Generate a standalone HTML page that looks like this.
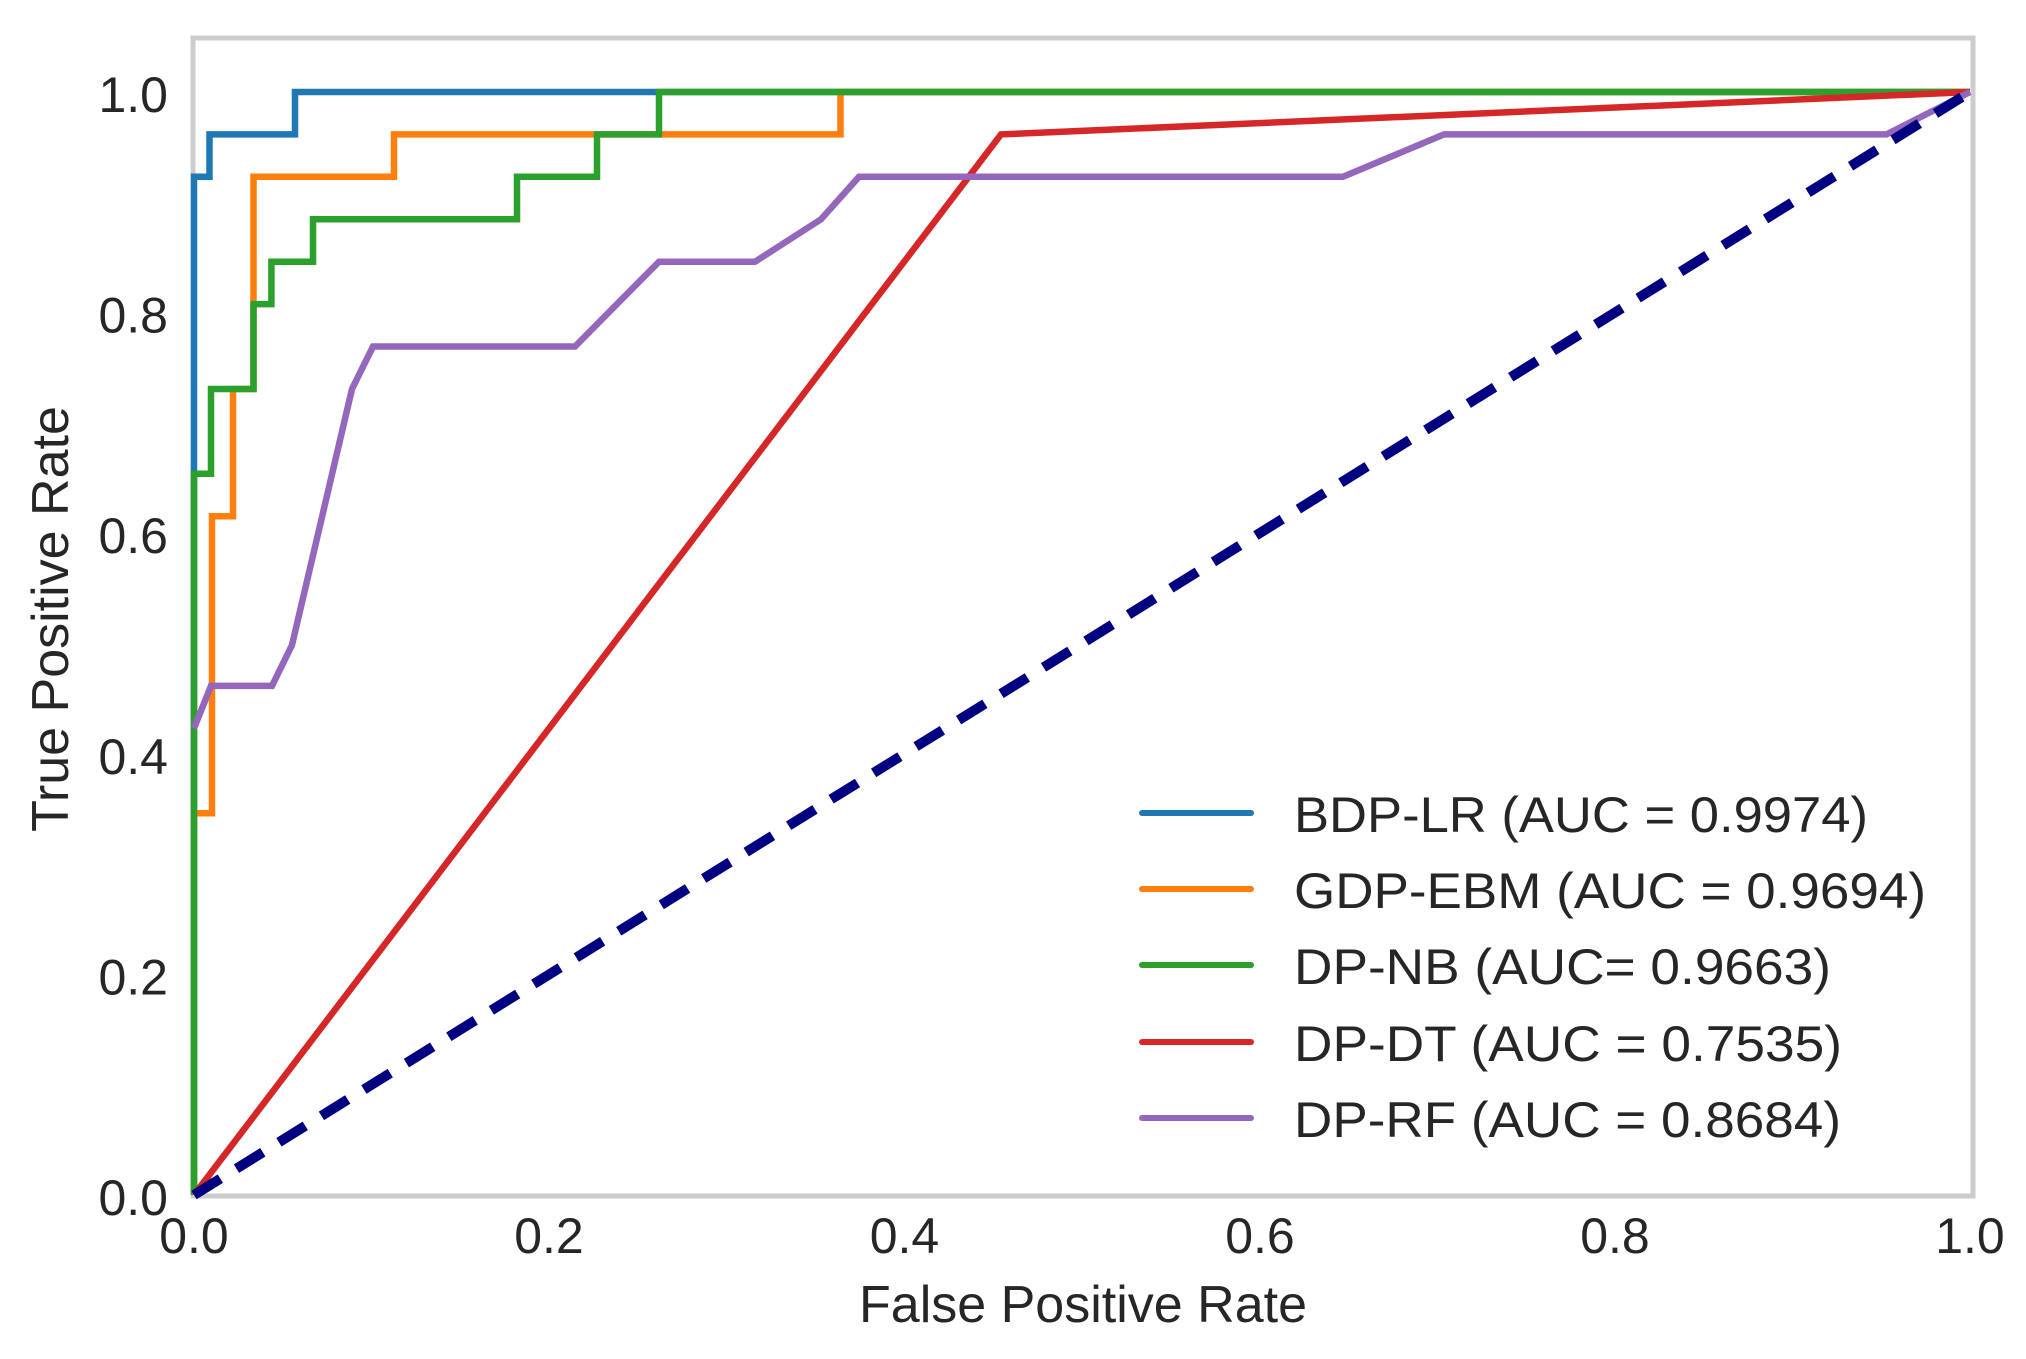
<!DOCTYPE html>
<html><head><meta charset="utf-8"><style>
html,body{margin:0;padding:0;background:#fff;}
svg{display:block;}
text{font-family:"Liberation Sans",Arial,sans-serif;fill:#262626;}
</style></head><body>
<svg width="2026" height="1359" viewBox="0 0 2026 1359" xmlns="http://www.w3.org/2000/svg">
<rect x="0" y="0" width="2026" height="1359" fill="#fff"/>
<rect x="193" y="38" width="1780" height="1158" fill="#fff" stroke="#cccccc" stroke-width="5"/>
<g fill="none" stroke-width="6.5" stroke-linejoin="miter" stroke-linecap="butt">
<polyline stroke="#1f77b4" points="194,1195 194,176.8 209.5,176.8 209.5,134.4 295,134.4 295,92 1970,92"/>
<polyline stroke="#ff7f0e" points="194,1195 194,813.2 212,813.2 212,516.2 233,516.2 233,389 253.5,389 253.5,176.8 394,176.8 394,134.4 840.5,134.4 840.5,92 1970,92"/>
<polyline stroke="#2ca02c" points="194,1195 194,473.8 211,473.8 211,389 253.5,389 253.5,304.1 271.4,304.1 271.4,261.7 313,261.7 313,219.3 517,219.3 517,176.8 597,176.8 597,134.4 659,134.4 659,92 1970,92"/>
<polyline stroke="#d62728" points="194,1195 1001,134.4 1970,92"/>
<polyline stroke="#9467bd" points="194,728.3 211,685.9 272,685.9 292,645 352,389 373,346.5 575,346.5 659,261.7 755,261.7 821,219.3 859,176.8 1343,176.8 1444,134.4 1886.5,134.4 1970,92"/>
<line x1="194" y1="1195" x2="1970" y2="92" stroke="#000080" stroke-width="10" stroke-dasharray="31,19"/>
</g>
<g font-size="50" text-anchor="end">
<text x="168" y="112">1.0</text>
<text x="168" y="332.6">0.8</text>
<text x="168" y="553.2">0.6</text>
<text x="168" y="773.8">0.4</text>
<text x="168" y="994.4">0.2</text>
<text x="168" y="1215">0.0</text>
</g>
<g font-size="50" text-anchor="middle">
<text x="194" y="1253">0.0</text>
<text x="549" y="1253">0.2</text>
<text x="904.5" y="1253">0.4</text>
<text x="1260" y="1253">0.6</text>
<text x="1615" y="1253">0.8</text>
<text x="1970" y="1253">1.0</text>
</g>
<text x="1083" y="1322" font-size="52" text-anchor="middle">False Positive Rate</text>
<text transform="translate(68,619) rotate(-90)" font-size="52" text-anchor="middle">True Positive Rate</text>
<g stroke-width="6" stroke-linecap="round">
<line x1="1142" y1="813" x2="1251" y2="813" stroke="#1f77b4"/>
<line x1="1142" y1="889" x2="1251" y2="889" stroke="#ff7f0e"/>
<line x1="1142" y1="965" x2="1251" y2="965" stroke="#2ca02c"/>
<line x1="1142" y1="1042" x2="1251" y2="1042" stroke="#d62728"/>
<line x1="1142" y1="1118" x2="1251" y2="1118" stroke="#9467bd"/>
</g>
<g font-size="50">
<text x="1294" y="832" textLength="574" lengthAdjust="spacingAndGlyphs">BDP-LR (AUC = 0.9974)</text>
<text x="1294" y="908" textLength="632" lengthAdjust="spacingAndGlyphs">GDP-EBM (AUC = 0.9694)</text>
<text x="1294" y="984" textLength="537" lengthAdjust="spacingAndGlyphs">DP-NB (AUC= 0.9663)</text>
<text x="1294" y="1061" textLength="548" lengthAdjust="spacingAndGlyphs">DP-DT (AUC = 0.7535)</text>
<text x="1294" y="1137" textLength="547" lengthAdjust="spacingAndGlyphs">DP-RF (AUC = 0.8684)</text>
</g>
</svg>
</body></html>
